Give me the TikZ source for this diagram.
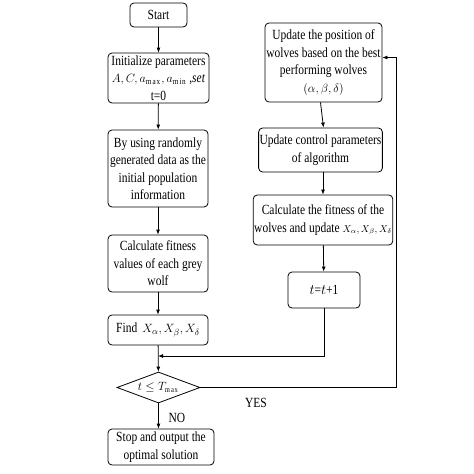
\documentclass[tikz,border=0pt]{standalone}
\usepackage{fontspec}
\setmainfont[FakeStretch=0.82]{Liberation Serif}
\usetikzlibrary{shapes.geometric,arrows.meta}
\begin{document}
\begin{tikzpicture}[x=1pt,y=-1pt,
	box node/.style={draw, thick, rounded corners=4pt, align=center, inner sep=1pt, font=\fontsize{14}{17.5}\selectfont},
	test node/.style={draw, thick, diamond, aspect=2.7, inner sep=0pt, font=\fontsize{12}{14}\selectfont},
	flow/.style={thick, -{Latex[length=5pt,width=4pt]}}]
	\useasboundingbox (0,0) rectangle (474,474);
	
	\node[box node, minimum width=57pt, minimum height=24pt] (Start) at (158.5,15) {Start};
	\node[box node, minimum width=101pt, minimum height=50pt] (Init) at (158.5,78) {Initialize parameters\\ {\fontsize{12.5}{14}\selectfont$A,C,a_{\max},a_{\min}$}\,,\textit{set}\\ t=0};
	\node[box node, minimum width=100pt, minimum height=77pt] (Rand) at (158,168.5) {By using randomly\\ generated data as the\\ initial population\\ information};
	\node[box node, minimum width=100pt, minimum height=57pt] (Calc) at (158,263.5) {Calculate fitness\\ values of each grey\\ wolf};
	\node[box node, minimum width=100pt, minimum height=30pt] (Find) at (158,330) {Find\, {\fontsize{12.5}{14}\selectfont$X_{\alpha},X_{\beta},X_{\delta}$}};
	\node[test node, minimum width=83pt, minimum height=31pt] (Test) at (158.5,387.5) {$t\leq T_{\max}$};
	\node[box node, minimum width=106pt, minimum height=36pt] (Stop) at (161,447) {Stop and output the\\ optimal solution};
	
	\node[box node, minimum width=117pt, minimum height=79pt] (Pos) at (323.5,62.5) {Update the position of\\ wolves based on the best\\ performing wolves\\ {\fontsize{12.5}{14}\selectfont$(\alpha,\beta,\delta)$}};
	\node[box node, minimum width=119pt, minimum height=44pt] (Ctrl) at (320.5,150) {Update control parameters\\ of algorithm};
	\node[box node, minimum width=128pt, minimum height=50pt] (Fit) at (323,220) {Calculate the fitness of the\\ wolves and update {\fontsize{10}{12}\selectfont$X_{\alpha},X_{\beta},X_{\delta}$}};
	\node[box node, minimum width=72pt, minimum height=36pt] (Inc) at (324,290) {$t$=$t$+1};
	
	\coordinate (Join) at (158,356);
	\coordinate (LoopR) at (396,387.5);
	
	\draw[flow] (Start) -- (Init);
	\draw[flow] (Init) -- (Rand);
	\draw[flow] (Rand) -- (Calc);
	\draw[flow] (Calc) -- (Find);
	\draw[flow] (Find) -- (Test);
	\draw[flow] (Test.south) -- (Test.south |- Stop.north);
	\draw[flow] (Pos.south -| Ctrl.north) -- (Ctrl.north -| Pos.south);
	\draw[flow] (Ctrl.south -| Fit.north) -- (Fit.north);
	\draw[flow] (Fit) -- (Inc);
	\draw[flow] (Inc.south) |- (Join);
	\draw[flow] (Test.east) -- (LoopR) |- ([yshift=5pt]Pos.east);
	
	\node[font=\fontsize{14}{17}\selectfont] (No) at (177,418) {NO};
	\node[font=\fontsize{14}{17}\selectfont] (Yes) at (256,403) {YES};
\end{tikzpicture}
\end{document}
